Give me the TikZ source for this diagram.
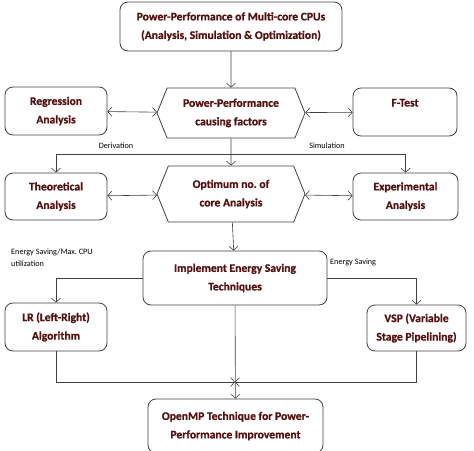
\documentclass[tikz,border=0pt]{standalone}
\usepackage{fontspec}
\setmainfont{Carlito}[BoldFeatures={FakeBold=0.8}]
\usetikzlibrary{shapes.symbols, arrows.meta, positioning, calc}
\definecolor{maroon}{HTML}{521010}

\begin{document}
\begin{tikzpicture}[
  x=1pt, y=-1pt,
  s/.style={rectangle, draw=black!75, rounded corners=8pt, line width=0.8pt,
            align=center, inner sep=2pt, text=maroon,
            font=\fontsize{11.6}{18.5}\selectfont\bfseries},
  h/.style={s, signal, signal to=west and east, signal pointer angle=136,
            rounded corners=0pt},
  a/.style={-{Straight Barb[length=4pt, width=9pt]}, draw=black!75, line width=0.6pt},
  aa/.style={a, {Straight Barb[length=4pt, width=9pt]}-{Straight Barb[length=4pt, width=9pt]}},
  lbl/.style={font=\fontsize{8.2}{11.5}\selectfont, align=left, inner sep=0pt},
]
  \clip (0,0) rectangle (474,450);

  \node[s, minimum width=222pt, minimum height=49pt] (top) at (231,26.5)
    {Power-Performance of Multi-core CPUs\\(Analysis, Simulation \& Optimization)};

  \node[h, minimum width=148pt, minimum height=50pt] (factors) at (231,113)
    {Power-Performance\\causing factors};
  \node[s, minimum width=102pt, minimum height=48pt] (regr) at (56,111)
    {Regression\\Analysis};
  \node[s, minimum width=104pt, minimum height=48pt] (ftest) at (405,112)
    {F-Test\\\mbox{}};

  \node[h, minimum width=148pt, minimum height=56pt] (optim) at (231,194)
    {Optimum no.\ of\\core Analysis};
  \node[s, minimum width=102pt, minimum height=47pt] (theo) at (56,196.5)
    {Theoretical\\Analysis};
  \node[s, minimum width=105pt, minimum height=47pt] (expt) at (405.5,196.5)
    {Experimental\\Analysis};

  \node[s, minimum width=184pt, minimum height=54pt] (impl) at (235,278)
    {Implement Energy Saving\\Techniques};
  \node[s, minimum width=102pt, minimum height=48pt] (lr) at (56,327)
    {LR (Left-Right)\\Algorithm};
  \node[s, minimum width=99pt, minimum height=46pt] (vsp) at (416.5,328)
    {VSP (Variable\\Stage Pipelining)};

  \node[s, minimum width=175pt, minimum height=54pt] (omp) at (235.5,426)
    {OpenMP Technique for Power-\\Performance Improvement};

  \coordinate (split) at (231,154);
  \coordinate (join) at (235,382);

  \node[lbl] (deriv) at (116,146) {Derivation};
  \node[lbl] (simul) at (327,146) {Simulation};
  \node[lbl, anchor=north west] (esmax) at (11,249) {Energy Saving/Max.\ CPU\\utilization};
  \node[lbl, anchor=west] (es) at (330,262) {Energy Saving};

  \draw[a] (top) -- (factors);
  \draw[aa] (regr) -- (factors);
  \draw[aa] (factors) -- (ftest);

  \draw[a] (factors) -- (optim);
  \draw[a] (split) -| (theo);
  \draw[a] (split) -| (expt);
  \draw[aa] (theo) -- (optim);
  \draw[aa] (optim) -- (expt);

  \draw[a] (optim) -- (impl);
  \draw[a] (impl) -| (lr);
  \draw[a] (impl) -| (vsp);

  \draw[a] (impl) -- (omp);
  \draw[a] (lr) |- (join);
  \draw[a] (vsp) |- (join);
\end{tikzpicture}
\end{document}
